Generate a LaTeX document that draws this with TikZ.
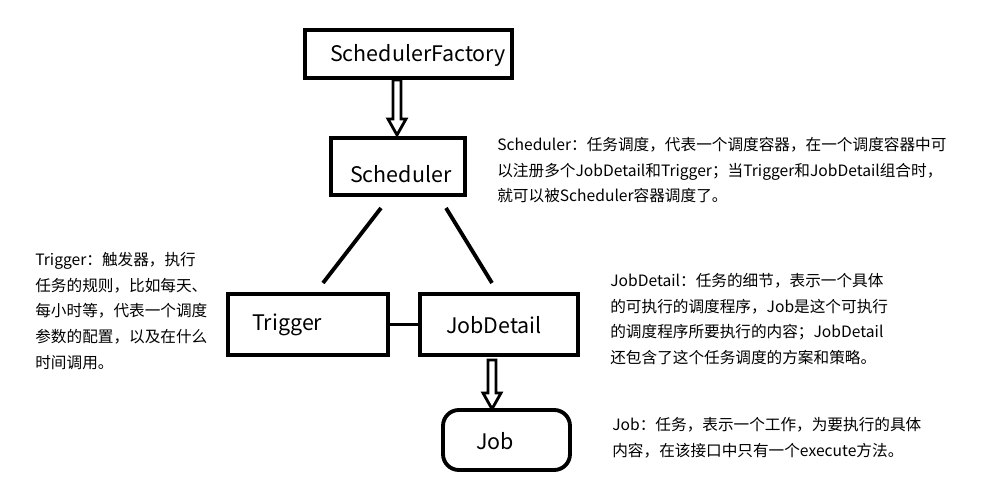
\documentclass[tikz,border=0pt]{standalone}
\usepackage{fontspec}
\setmainfont{Noto Sans CJK SC}
\usetikzlibrary{positioning, calc}
\tikzstyle{block} = [rectangle, draw=black, line width=2.2pt, inner sep=0pt]
\tikzstyle{label} = [anchor=west, font=\fontsize{12.2}{12.2}\selectfont]
\tikzstyle{note} = [anchor=north west, align=left, inner sep=0pt, font=\fontsize{8.9}{14.6}\selectfont]
\tikzstyle{link} = [line width=2.2pt]
\newcommand{\hollowarrow}[2]{%
  \draw[line width=1.6pt, line join=miter] ($(#1)+(-4,0)$) -- ($(#2)+(-4,-16)$) -- ($(#2)+(-9,-16)$) -- (#2) -- ($(#2)+(9,-16)$) -- ($(#2)+(4,-16)$) -- ($(#1)+(4,0)$) -- cycle;}

\begin{document}
\begin{tikzpicture}[x=0.02cm, y=-0.02cm]
				\useasboundingbox (0,0) rectangle (985,486);
				
				% Boxes
				\node (factory) [block, minimum width=4.14cm, minimum height=0.96cm] at (408.5,54) {};
				\node (factorytext) [label] at (324,55) {SchedulerFactory};
				\node (sched) [block, minimum width=2.68cm, minimum height=1.14cm] at (398,166.5) {};
				\node (schedtext) [label] at (344,174) {Scheduler};
				\node (trig) [block, minimum width=3.2cm, minimum height=1.22cm] at (308,324.5) {};
				\node (trigtext) [label] at (246,325) {Trigger};
				\node (jd) [block, minimum width=3.16cm, minimum height=1.22cm] at (499,324.5) {};
				\node (jdtext) [label] at (440,325) {JobDetail};
				\node (job) [block, rounded corners=9pt, minimum width=2.54cm, minimum height=1.2cm] at (506.5,440) {};
				\node (jobtext) [label] at (470,441) {Job};
				
				% Connectors
				\coordinate (sfout) at (397,80);
				\coordinate (schin) at (397,135);
				\hollowarrow{sfout}{schin}
				\coordinate (jdout) at (492,360);
				\coordinate (jobin) at (492,409);
				\hollowarrow{jdout}{jobin}
				\coordinate (s1) at (381,208);
				\coordinate (t1) at (323,283);
				\coordinate (s2) at (446,208);
				\coordinate (j1) at (492,283);
				\draw[link] (s1) -- (t1);
				\draw[link] (s2) -- (j1);
				\draw[link] (trig) -- (jd);
				
				% Notes
				\node (schednote) [note] at (497,137) {Scheduler：任务调度，代表一个调度容器，在一个调度容器中可\\以注册多个JobDetail和Trigger；当Trigger和JobDetail组合时，\\就可以被Scheduler容器调度了。};
				\node (trignote) [note] at (35,252) {Trigger：触发器，执行\\任务的规则，比如每天、\\每小时等，代表一个调度\\参数的配置，以及在什么\\时间调用。};
				\node (jdnote) [note] at (610,273) {JobDetail：任务的细节，表示一个具体\\的可执行的调度程序，Job是这个可执行\\的调度程序所要执行的内容；JobDetail\\还包含了这个任务调度的方案和策略。};
				\node (jobnote) [note] at (612,417) {Job：任务，表示一个工作，为要执行的具体\\内容，在该接口中只有一个execute方法。};
			\end{tikzpicture}
\end{document}
